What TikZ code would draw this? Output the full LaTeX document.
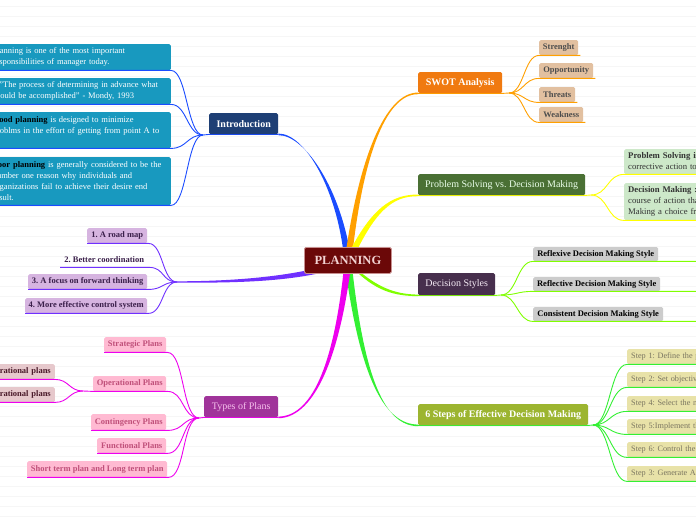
\documentclass[tikz,border=0pt]{standalone}
\usepackage{fontspec}
\setmainfont{Liberation Serif}
\usetikzlibrary{calc}
\definecolor{rootF}{HTML}{6B0808}
\definecolor{rootB}{HTML}{C89090}
\definecolor{rootT}{HTML}{F2D2D2}
\definecolor{introF}{HTML}{1E3F75}
\definecolor{ikF}{HTML}{1899BF}
\definecolor{swotF}{HTML}{F07A10}
\definecolor{swkF}{HTML}{E2C0A0}
\definecolor{swkT}{HTML}{4D4D4D}
\definecolor{psF}{HTML}{4A7034}
\definecolor{pskF}{HTML}{CDE8C9}
\definecolor{dsF}{HTML}{472F4D}
\definecolor{dskF}{HTML}{CCCCCC}
\definecolor{stF}{HTML}{9CB530}
\definecolor{stkF}{HTML}{E8E2A8}
\definecolor{stkT}{HTML}{7A7560}
\definecolor{lavF}{HTML}{D6B4E0}
\definecolor{lavT}{HTML}{3A1F4A}
\definecolor{tyF}{HTML}{A0349A}
\definecolor{tyT}{HTML}{F5C0EC}
\definecolor{pkF}{HTML}{FFBAD2}
\definecolor{pkT}{HTML}{C0507A}
\definecolor{dpF}{HTML}{E6C8CC}
\definecolor{dpT}{HTML}{4A1A2A}
\definecolor{cBlue}{HTML}{1A4CFF}
\definecolor{cOrange}{HTML}{FFA000}
\definecolor{cYellow}{HTML}{FFFF00}
\definecolor{cLime}{HTML}{80FF00}
\definecolor{cGreen}{HTML}{33F033}
\definecolor{cMag}{HTML}{EE00EE}
\definecolor{cViolet}{HTML}{7030FF}
\begin{document}
\frenchspacing
\begin{tikzpicture}[x=1pt,y=-1pt,
  conn/.style={line width=0.9pt},
  bx/.style={rounded corners=1.5pt, inner sep=0pt, anchor=north west},
  kid/.style={bx, font=\fontsize{8.5}{10}\selectfont\bfseries},
  para/.style={rounded corners=1.5pt, inner xsep=4pt, inner ysep=2pt, align=left,
     font=\fontsize{8.5}{11}\selectfont},
  mainn/.style={bx, font=\fontsize{10}{12}\selectfont},
]
\useasboundingbox (0,0) rectangle (696,520);
\clip (0,0) rectangle (696,520);
\fill[white] (0,0) rectangle (696,520);
\foreach \k in {0,...,51} \draw[black!3.5, line width=0.6pt] (0,6+10*\k) -- (696,6+10*\k);

% ---------- anchors ----------
\coordinate (R) at (348,262);
\coordinate (jI) at (203,135);
\coordinate (jS) at (509,93);
\coordinate (jP) at (591,195);
\coordinate (jD) at (501,295);
\coordinate (jE) at (593,425);
\coordinate (jT) at (199,418);
\coordinate (adv) at (177,282);
\coordinate (jO) at (83,391);

\path (209,113) node[bx, minimum width=69pt, minimum height=21pt] (intro) {};
\path (418,72) node[bx, minimum width=84pt, minimum height=21pt] (swot) {};
\path (418,174) node[bx, minimum width=167pt, minimum height=21pt] (ps) {};
\path (418,273) node[bx, minimum width=77pt, minimum height=22pt] (ds) {};
\path (418,404) node[bx, minimum width=170pt, minimum height=21pt] (steps) {};
\path (204,396) node[bx, minimum width=74pt, minimum height=21pt] (types) {};

% ---------- tapered main branches ----------
\fill[cBlue] ($(R)+(-3.5,0)$) .. controls (338,190) and (305,133.2) .. ($(intro.south east)+(0,-0.8)$)
   -- ($(intro.south east)+(0,0.8)$) .. controls (305,134.8) and (342,190) .. ($(R)+(3.5,0)$) -- cycle;
\fill[cOrange] ($(R)+(-3.5,0)$) .. controls (358,160) and (385,92.2) .. ($(swot.south west)+(0,-0.8)$)
   -- ($(swot.south west)+(0,0.8)$) .. controls (385,93.8) and (362,160) .. ($(R)+(3.5,0)$) -- cycle;
\fill[cYellow] ($(R)+(-3,-1)$) .. controls (370,208) and (392,194.2) .. ($(ps.south west)+(0,-0.8)$)
   -- ($(ps.south west)+(0,0.8)$) .. controls (392,195.8) and (374,212) .. ($(R)+(3,1)$) -- cycle;
\fill[cLime] ($(R)+(-2,-3)$) .. controls (375,288) and (395,294.2) .. ($(ds.south west)+(0,-0.8)$)
   -- ($(ds.south west)+(0,0.8)$) .. controls (395,295.8) and (375,292) .. ($(R)+(2,3)$) -- cycle;
\fill[cGreen] ($(R)+(-3.5,0)$) .. controls (360,380) and (385,424.2) .. ($(steps.south west)+(0,-0.8)$)
   -- ($(steps.south west)+(0,0.8)$) .. controls (385,425.8) and (364,380) .. ($(R)+(3.5,0)$) -- cycle;
\fill[cMag] ($(R)+(-3.5,0)$) .. controls (334,370) and (310,416.2) .. ($(types.south east)+(0,-0.8)$)
   -- ($(types.south east)+(0,0.8)$) .. controls (310,417.8) and (338,370) .. ($(R)+(3.5,0)$) -- cycle;
\fill[cViolet] ($(R)+(0,-3)$) .. controls (300,277) and (230,281.3) .. ($(adv)+(0,-0.7)$)
   -- ($(adv)+(0,0.7)$) .. controls (230,282.7) and (300,283) .. ($(R)+(0,3)$) -- cycle;

% ---------- children nodes ----------
\node[para, fill=ikF, text=white, anchor=north east, text width=174pt, minimum height=26pt] (ik1) at (171,44)
  {Planning is one of the most important\\responsibilities of manager today.};
\node[para, fill=ikF, text=white, anchor=north east, text width=174pt, minimum height=26pt] (ik2) at (171,78)
  {\hspace*{6.5pt}"The process of determining in advance what\\should be accomplished" - Mondy, 1993};
\node[para, fill=ikF, text=white, anchor=north east, text width=174pt, minimum height=36pt] (ik3) at (171,112)
  {\textcolor{black}{\textbf{Good planning}} is designed to minimize\\problms in the effort of getting from point A to\\B.};
\node[para, fill=ikF, text=white, anchor=north east, text width=174pt, minimum height=48pt] (ik4) at (171,157)
  {\textcolor{black}{\textbf{Poor planning}} is generally considered to be the\\number one reason why individuals and\\organizations fail to achieve their desire end\\result.};

\node[kid, fill=swkF, text=swkT, minimum width=39pt, minimum height=15pt] (s1) at (539,40) {Strenght};
\node[kid, fill=swkF, text=swkT, minimum width=54pt, minimum height=15pt] (s2) at (539,63) {Opportunity};
\node[kid, fill=swkF, text=swkT, minimum width=36pt, minimum height=15pt] (s3) at (539,87) {Threats};
\node[kid, fill=swkF, text=swkT, minimum width=44pt, minimum height=15pt] (s4) at (539,107) {Weakness};

\node[para, fill=pskF, text=black!80, anchor=north west, text width=240pt, minimum height=25pt, font=\fontsize{8.7}{11}\selectfont] (p1) at (624,149)
  {\textbf{Problem Solving is} the process of identifying a problem\\corrective action to meet objectives};
\node[para, fill=pskF, text=black!80, anchor=north west, text width=240pt, minimum height=37pt, font=\fontsize{8.7}{11}\selectfont] (p2) at (624,183)
  {\textbf{Decision Making :} identifying and selecting a\\course of action that deals with a problem\\Making a choice from alternatives};

\node[kid, fill=dskF, text=black, minimum width=125pt, minimum height=14pt] (d1) at (533,247) {Reflexive Decision Making Style};
\node[kid, fill=dskF, text=black, minimum width=127pt, minimum height=14pt] (d2) at (533,277) {Reflective Decision Making Style};
\node[kid, fill=dskF, text=black, minimum width=130pt, minimum height=14pt] (d3) at (533,307) {Consistent Decision Making Style};

\tikzset{stp/.style={para, fill=stkF, text=stkT, anchor=north west, text width=180pt, minimum height=15pt, inner ysep=0pt, font=\fontsize{8.2}{11}\selectfont}}
\node[stp] (e1) at (627,349) {Step 1: Define the problem};
\node[stp] (e2) at (627,372) {Step 2: Set objectives};
\node[stp] (e3) at (627,396) {Step 4: Select the most appropriate alternative};
\node[stp] (e4) at (627,419) {Step 5:Implement the decision};
\node[stp] (e5) at (627,442) {Step 6: Control the results};
\node[stp] (e6) at (627,466) {Step 3: Generate Alternatives};

\node[kid, fill=lavF, text=lavT, minimum width=60pt, minimum height=15pt] (a1) at (87,228) {1. A road map};
\node[kid, text=lavT, minimum width=88pt, minimum height=15pt] (a2) at (60,252) {2. Better coordination};
\node[kid, fill=lavF, text=lavT, minimum width=119pt, minimum height=15pt] (a3) at (28,274) {3. A focus on forward thinking};
\node[kid, fill=lavF, text=lavT, minimum width=122pt, minimum height=15pt] (a4) at (25,298) {4. More effective control system};

\node[kid, fill=pkF, text=pkT, minimum width=62pt, minimum height=15pt] (t1) at (104,337) {Strategic Plans};
\node[kid, fill=pkF, text=pkT, minimum width=73pt, minimum height=15pt] (t2) at (93,376) {Operational Plans};
\node[kid, fill=pkF, text=pkT, minimum width=75pt, minimum height=16pt] (t3) at (91,414) {Contingency Plans};
\node[kid, fill=pkF, text=pkT, minimum width=69pt, minimum height=15pt] (t4) at (97,438) {Functional Plans};
\node[kid, fill=pkF, text=pkT, minimum width=140pt, minimum height=16pt] (t5) at (27,461) {Short term plan and Long term plan};
\node[kid, fill=dpF, text=dpT, anchor=north east, inner xsep=4pt, text width=130pt, align=right, minimum height=15pt] (o1) at (55,364) {Single-use operational plans};
\node[kid, fill=dpF, text=dpT, anchor=north east, inner xsep=4pt, text width=130pt, align=right, minimum height=15pt] (o2) at (55,387) {Standing operational plans};

% ---------- child connectors ----------
\draw[cBlue, conn] (intro.south east) -- (intro.south west) -- (jI);
\foreach \n in {ik1,ik2,ik3,ik4}
  \draw[cBlue, conn] (jI) .. controls +(-16,0) and +(16,0) .. (\n.south east) -- (\n.south west);

\draw[cOrange, conn] (swot.south west) -- (swot.south east) -- (jS);
\foreach \n in {s1,s2,s3,s4}
  \draw[cOrange, conn] (jS) .. controls +(15,0) and +(-15,0) .. (\n.south west) -- ($(\n.south east)+(2,0)$);

\draw[cYellow, conn] (ps.south west) -- (ps.south east) -- (jP);
\foreach \n in {p1,p2}
  \draw[cYellow, conn] (jP) .. controls +(17,0) and +(-17,0) .. (\n.south west) -- (\n.south east);

\draw[cLime, conn] (ds.south west) -- (ds.south east) -- (jD);
\foreach \n in {d1,d2,d3}
  \draw[cLime, conn] (jD) .. controls +(16,0) and +(-16,0) .. (\n.south west) -- (\n.south west -| 700,0);

\draw[cGreen, conn] (steps.south west) -- (steps.south east) -- (jE);
\foreach \n in {e1,e2,e3,e4,e5,e6}
  \draw[cGreen, conn] (jE) .. controls +(17,0) and +(-17,0) .. (\n.south west) -- (\n.south east);

\foreach \n in {a1,a2,a3,a4}
  \draw[cViolet, conn] (adv) .. controls +(-15,0) and +(15,0) .. ($(\n.south east)+(1,0)$) -- (\n.south west);

\draw[cMag, conn] (types.south east) -- (types.south west) -- (jT);
\foreach \n in {t1,t2,t3,t4,t5}
  \draw[cMag, conn] (jT) .. controls +(-17,0) and +(17,0) .. ($(\n.south east)+(1,0)$) -- (\n.south west);
\draw[cMag, conn] (t2.south west) -- (jO);
\foreach \n in {o1,o2}
  \draw[cMag, conn] (jO) .. controls +(-14,0) and +(14,0) .. (\n.south east) -- (\n.south west);

% ---------- main nodes (on top) ----------
\node[mainn, fill=introF, text=white, font=\bfseries, minimum width=69pt, minimum height=21pt] at (209,113) {Introduction};
\node[mainn, fill=swotF, text=white, font=\bfseries, minimum width=84pt, minimum height=21pt] at (418,72) {SWOT Analysis};
\node[mainn, fill=psF, text=white!92!green, minimum width=167pt, minimum height=21pt] at (418,174) {Problem Solving vs. Decision Making};
\node[mainn, fill=dsF, text=white!92!violet, minimum width=77pt, minimum height=22pt] at (418,273) {Decision Styles};
\node[mainn, fill=stF, text=white, font=\bfseries, minimum width=170pt, minimum height=21pt] at (418,404) {6 Steps of Effective Decision Making};
\node[mainn, fill=tyF, text=tyT, minimum width=74pt, minimum height=21pt] at (204,396) {Types of Plans};
\node[bx, fill=rootF, draw=rootB, line width=0.8pt, text=rootT, font=\fontsize{12.5}{14}\selectfont\bfseries, minimum width=87pt, minimum height=26pt] (root) at (304,247) {PLANNING};
\end{tikzpicture}
\end{document}
